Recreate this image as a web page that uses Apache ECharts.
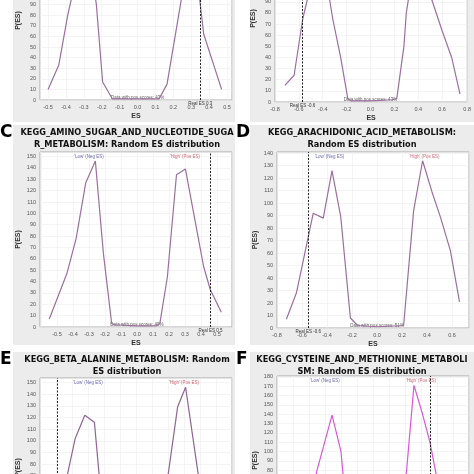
<!DOCTYPE html>
<html><head><meta charset="utf-8">
<script src="https://cdn.jsdelivr.net/npm/echarts@6/dist/echarts.min.js"></script>
<style>html,body{margin:0;padding:0;background:#fff;overflow:hidden;width:474px;height:474px}#c{position:absolute;left:0;top:-113px;width:474px;height:700px}</style>
</head><body><div id="c"></div>
<script>
// Panel A (top-left, cropped)
const aX=[-0.5,-0.44,-0.39,-0.33,-0.27,-0.23,-0.195,-0.14,-0.05,0.05,0.12,0.165,0.23,0.28,0.32,0.37,0.47];
const aY=[10,33,80,125,140,90,17,1,1,1,1,15,80,130,135,62,10];
const aReal=0.35;
// Panel B (top-right, cropped)
const bX=[-0.717,-0.64,-0.567,-0.5,-0.4,-0.317,-0.25,-0.19,-0.16,0,0.18,0.22,0.28,0.3,0.38,0.6,0.68,0.75];
const bY=[15,24,75,105,130,75,40,3,1,1,2,3,50,80,135,64,40,7];
const bReal=-0.567;
// Panel C
const cX=[-0.548,-0.438,-0.38,-0.32,-0.26,-0.21,-0.158,-0.14,0,0.12,0.143,0.19,0.247,0.303,0.417,0.458,0.527];
const cY=[7,47,78,127,146,65,3,2,1,1,3,44,134,139,53,33,13];
const cReal=0.458;
// Panel D
const dX=[-0.725,-0.645,-0.51,-0.43,-0.36,-0.29,-0.213,-0.155,0,0.213,0.293,0.365,0.44,0.51,0.587,0.66];
const dY=[7,28,92,88,126,89,8,2,1,2,94,134,109,88,62,21];
const dReal=-0.547;
// Panel E
const eX=[-0.55,-0.47,-0.43,-0.38,-0.32,-0.26,-0.23,-0.17,0,0.14,0.2,0.26,0.31,0.39,0.45];
const eY=[10,40,70,102,122,116,70,3,1,2,70,129,146,70,20];
const eReal=-0.49;
// Panel F
const fX=[-0.5,-0.4,-0.35,-0.256,-0.2,-0.15,0,0.15,0.21,0.256,0.31,0.356,0.39,0.45];
const fY=[8,40,80,139,100,4,1,3,80,171,140,110,80,15];
const fReal=0.356;

const titles=[
 null,null,
 ['KEGG_AMINO_SUGAR_AND_NUCLEOTIDE_SUGA','R_METABOLISM: Random ES distribution'],
 ['KEGG_ARACHIDONIC_ACID_METABOLISM:','Random ES distribution'],
 ['KEGG_BETA_ALANINE_METABOLISM: Random','ES distribution'],
 ['KEGG_CYSTEINE_AND_METHIONINE_METABOLI','SM: Random ES distribution']
];
const letters=[null,null,'C','D','E','F'];
const realLbl=['Real ES 0.3','Real ES -0.6','Real ES 0.5','Real ES -0.6','Real ES -0.5','Real ES 0.4'];
const posLbl=['Data with pos scores: 43%','Data with pos scores: 43%','Data with pos scores: 49%','Data with pos scores: 51%','Data with pos scores: 50%','Data with pos scores: 50%'];

const OFF=113;
const P=[
 {x:aX,y:aY,r:aReal,l:40,rt:242,t:54,b:487,xmin:-0.545,xmax:0.528,ymax:150,col:'#9c6f9e'},
 {x:bX,y:bY,r:bReal,l:275,rt:6,t:48,b:485,xmin:-0.8,xmax:0.81,ymax:150,col:'#9c6f9e'},
 {x:cX,y:cY,r:cReal,l:40,rt:242,t:152+OFF,b:260,xmin:-0.606,xmax:0.594,ymax:154,col:'#9c6f9e'},
 {x:dX,y:dY,r:dReal,l:277,rt:5,t:152+OFF,b:259,xmin:-0.8,xmax:0.736,ymax:141,col:'#9c6f9e'},
 {x:eX,y:eY,r:eReal,l:40,rt:242,t:378+OFF,b:30,xmin:-0.6,xmax:0.6,ymax:154,col:'#8f6592'},
 {x:fX,y:fY,r:fReal,l:277,rt:5,t:376+OFF,b:42,xmin:-0.6,xmax:0.6,ymax:181,col:'#d957dc'}
];
const grid=[],xAxis=[],yAxis=[],series=[],graphic=[];
const boxes=[[13,-10,222,132],[250,-10,224,132],[13,125,222,220],[250,125,224,220],[13,352,222,140],[250,352,224,140]];
boxes.forEach(b=>graphic.push({type:'rect',z:-10,shape:{x:b[0],y:b[1]+OFF,width:b[2],height:b[3]},style:{fill:'#ececec'}}));
P.forEach((p,i)=>{
 const wide=(i==1||i==3);
 grid.push({left:p.l,right:p.rt,top:p.t,bottom:p.b,show:true,backgroundColor:'#fff',borderColor:'#aaa',borderWidth:1});
 xAxis.push({type:'value',gridIndex:i,min:p.xmin,max:p.xmax,minInterval:wide?0.2:0.1,maxInterval:wide?0.2:0.1,
  name:'ES',nameLocation:'middle',nameGap:13,nameTextStyle:{fontSize:7,fontWeight:'bold',color:'#333'},
  axisLine:{show:false},axisTick:{show:false},
  axisLabel:{fontSize:5.5,color:'#555',margin:4,showMinLabel:wide,showMaxLabel:i==1,
   formatter:v=>(!wide && Math.abs(v)>0.55)?'':v.toFixed(1)},
  splitLine:{lineStyle:{color:'#ececec',width:0.6}}});
 yAxis.push({type:'value',gridIndex:i,min:0,max:p.ymax,interval:10,
  name:'P(ES)',nameLocation:'middle',nameGap:18,nameTextStyle:{fontSize:7,fontWeight:'bold',color:'#333'},
  axisLine:{show:false},axisTick:{show:false},
  axisLabel:{fontSize:5.5,color:'#555',margin:4,showMaxLabel:false,formatter:v=>String(v)},
  splitLine:{lineStyle:{color:'#ececec',width:0.6}}});
 series.push({type:'line',xAxisIndex:i,yAxisIndex:i,data:p.x.map((v,k)=>[v,p.y[k]]),symbol:'none',
  lineStyle:{color:p.col,width:1.2},silent:true,
  markLine:{symbol:'none',silent:true,lineStyle:{color:'#222',type:[2,1.5],width:1},
   label:{show:true,position:'start',formatter:realLbl[i],fontSize:4.5,color:'#333',distance:1},
   data:[{xAxis:p.r}]}});
 series.push({type:'scatter',xAxisIndex:i,yAxisIndex:i,data:[[0,0]],symbolSize:0,silent:true,
  label:{show:true,formatter:posLbl[i],fontSize:4.5,color:'#333',position:'top',distance:0}});
 series.push({type:'scatter',xAxisIndex:i,yAxisIndex:i,data:[[-0.3+(wide?-0.08:0),p.ymax]],symbolSize:0,silent:true,
  label:{show:true,formatter:"'Low' (Neg ES)",fontSize:4.5,color:'#44449a',position:'bottom',distance:2}});
 series.push({type:'scatter',xAxisIndex:i,yAxisIndex:i,data:[[0.3+(wide?0.08:0),p.ymax]],symbolSize:0,silent:true,
  label:{show:true,formatter:"'High' (Pos ES)",fontSize:4.5,color:'#c04050',position:'bottom',distance:2}});
 if(titles[i]){
  const cx=i%2?362:127, ty=[0,0,127,127,354,354][i]+OFF;
  graphic.push({type:'text',x:cx,y:ty,style:{text:titles[i].join('\n'),align:'center',font:'bold 8.2px "DejaVu Sans"',lineHeight:12,fill:'#111'}});
  graphic.push({type:'text',x:i%2?236:0,y:ty-3,style:{text:letters[i],font:'bold 17px "DejaVu Sans"',fill:'#000'}});
 }
});
const ch=echarts.init(document.getElementById('c'),null,{renderer:'canvas'});
ch.setOption({animation:false,grid,xAxis,yAxis,series,graphic});
</script></body></html>
